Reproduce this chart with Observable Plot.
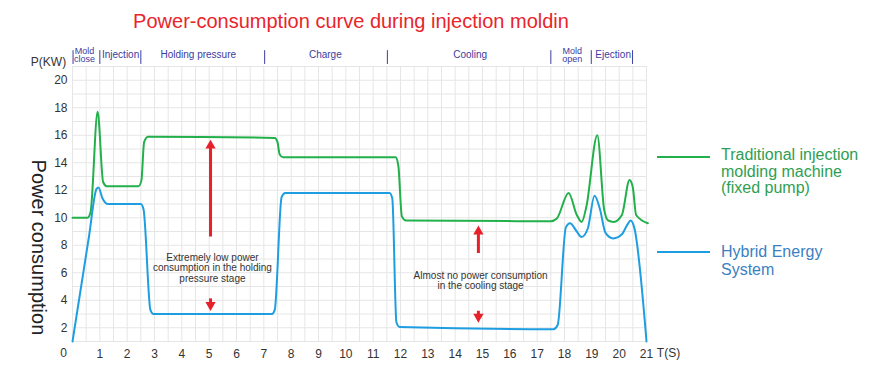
<!DOCTYPE html>
<html>
<head>
<meta charset="utf-8">
<script src="https://cdn.jsdelivr.net/npm/d3@7"></script>
<script src="https://cdn.jsdelivr.net/npm/@observablehq/plot@0.6"></script>
<style>
  html, body { margin: 0; padding: 0; background: #fff; }
  #wrap { position: relative; width: 885px; height: 386px; font-family: "Liberation Sans", Arial, sans-serif; overflow: hidden; }
  #title { position: absolute; left: 0; width: 702px; top: 10px; text-align: center; color: #e8252b; font-size: 20px; white-space: nowrap; }
  #chart { position: absolute; left: 0; top: 40px; }
  .leg { position: absolute; font-size: 16px; line-height: 16.5px; }
  .legline { position: absolute; height: 2px; width: 53px; }
</style>
</head>
<body>
<div id="wrap">
  <div id="title">Power-consumption curve during injection moldin</div>
  <div id="chart"></div>
  <div class="legline" style="left:657px; top:156px; background:#22b04b;"></div>
  <div class="leg" style="left:721px; top:147px; color:#2f9e52;">Traditional injection<br>molding machine<br>(fixed pump)</div>
  <div class="legline" style="left:657px; top:251px; background:#1e9ee0;"></div>
  <div class="leg" style="left:721px; top:243px; color:#3a7fc2; line-height:18px;">Hybrid Energy<br>System</div>
</div>
<script>
// Traditional injection molding machine (fixed pump)
const timeT  = [0, 0.55, 0.66, 0.92, 1.12, 1.25, 2.42, 2.52, 2.62, 2.76, 7.4, 7.5, 7.58, 7.7, 11.82, 11.92, 12.05, 12.2, 17.5, 17.72, 18.15, 18.45, 18.63, 18.8, 19.2, 19.45, 19.6, 19.8, 20.1, 20.38, 20.5, 20.62, 21.05];
const powerT = [10, 10, 10.4, 17.7, 12.6, 12.3, 12.3, 12.7, 15.5, 15.9, 15.8, 15.5, 14.6, 14.4, 14.4, 13.8, 10.1, 9.8, 9.75, 9.95, 11.8, 10.2, 9.7, 10.8, 16.0, 10.6, 9.8, 9.7, 10.2, 12.75, 12.2, 10.2, 9.6];

// Hybrid Energy System
const timeH  = [0, 0.3, 0.6, 0.88, 0.95, 1.1, 1.3, 2.5, 2.6, 2.85, 2.96, 7.3, 7.4, 7.65, 7.78, 11.6, 11.7, 11.85, 11.97, 17.6, 17.75, 18.05, 18.2, 18.45, 18.62, 18.85, 19.1, 19.3, 19.5, 19.78, 20.1, 20.3, 20.42, 20.55, 21];
const powerH = [1, 4.8, 8.6, 12.1, 12.2, 11.4, 11.0, 11.0, 10.6, 3.3, 3.0, 3.0, 3.3, 11.5, 11.8, 11.8, 11.4, 2.4, 2.05, 1.9, 2.2, 9.3, 9.6, 9.0, 8.6, 9.2, 11.6, 10.6, 8.9, 8.5, 8.8, 9.5, 9.8, 9.3, 1];

// Axis ticks
const xTicks = d3.range(1, 22);
const yTicks = [2, 4, 6, 8, 10, 12, 14, 16, 18, 20];

// Process phases
const phaseNames  = ["Mold\nclose", "Injection", "Holding pressure", "Charge", "Cooling", "Mold\nopen", "Ejection"];
const phaseMid    = [0.44, 1.76, 4.6, 9.25, 14.55, 18.28, 19.78];
const phaseBounds = [0.02, 1.0, 2.5, 7.03, 11.52, 17.5, 18.98, 20.49];

// Annotations
const notes  = ["Extremely low power\nconsumption in the holding\npressure stage", "Almost no power consumption\nin the cooling stage"];
const noteT  = [5.12, 14.93];
const noteP  = [6.37, 5.42];
const arrowT    = [5.05, 5.05, 14.85, 14.85];
const arrowFrom = [8.6, 4.1, 7.4, 3.2];
const arrowTo   = [15.25, 3.65, 9.0, 2.8];
const arrowUp   = [true, false, true, false];

const lineT = timeT.map((t, i) => ({t, p: powerT[i]}));
const lineH = timeH.map((t, i) => ({t, p: powerH[i]}));
const phases = phaseNames.map((name, i) => ({name, t: phaseMid[i], multi: name.includes("\n")}));
const bounds = phaseBounds.map(t => ({t}));
const noteData = notes.map((text, i) => ({text, t: noteT[i], p: noteP[i]}));
const arrows = arrowT.map((t, i) => ({t, y1: arrowFrom[i], y2: arrowTo[i], up: arrowUp[i]}));

const chart = Plot.plot({
  width: 885,
  height: 346,
  marginLeft: 72,
  marginRight: 239,
  marginTop: 26,
  marginBottom: 45,
  style: {fontFamily: "'Liberation Sans', Arial, sans-serif", background: "transparent"},
  x: {domain: [0, 21]},
  y: {domain: [1, 21]},
  marks: [
    Plot.gridX(d3.range(0, 21.01, 0.5), {stroke: "#e6e6e6", strokeOpacity: 1}),
    Plot.gridY(d3.range(1, 22), {stroke: "#e6e6e6", strokeOpacity: 1}),
    Plot.axisX(xTicks, {tickSize: 0, tickPadding: 8, fontSize: 12, color: "#333", label: null}),
    Plot.axisY(yTicks, {tickSize: 0, tickPadding: 5, fontSize: 12, color: "#333", label: null}),
    Plot.text(["0"], {x: 0, y: 1, dx: -9, dy: 12, fontSize: 12, fill: "#333"}),
    Plot.text(["T(S)"], {x: 21, y: 1, dx: 22, dy: 12, fontSize: 12, fill: "#333"}),
    Plot.text(["P(KW)"], {x: 0, y: 21, dx: -24, dy: -4, fontSize: 12, fill: "#333"}),
    Plot.text(["Power consumption"], {y: 7.84, frameAnchor: "left", textAnchor: "middle", dx: -34, rotate: 90, fontSize: 20, fill: "#222"}),
    Plot.ruleX(bounds, {x: "t", y1: 21.15, y2: 22.15, stroke: "#3c3ca0", strokeWidth: 1, clip: false}),
    Plot.text(phases.filter(d => !d.multi), {x: "t", y: 21.82, text: "name", fontSize: 10, fill: "#3c3ca0"}),
    Plot.text(phases.filter(d => d.multi), {x: "t", y: 21.82, text: "name", fontSize: 9, lineHeight: 0.95, fill: "#3c3ca0"}),
    Plot.line(lineT, {x: "t", y: "p", stroke: "#22b04b", strokeWidth: 2, curve: "monotone-x"}),
    Plot.line(lineH, {x: "t", y: "p", stroke: "#1e9ee0", strokeWidth: 2, curve: "monotone-x"}),
    Plot.ruleX(arrows, {x: "t", y1: "y1", y2: "y2", stroke: "#e8202a", strokeWidth: 3}),
    Plot.dot(arrows, {x: "t", y: "y2", symbol: "triangle", r: 3.8, fill: "#e8202a", stroke: null, rotate: d => d.up ? 0 : 180}),
    Plot.text(noteData, {x: "t", y: "p", text: "text", fontSize: 10, lineHeight: 1.05, fill: "#333"})
  ]
});
document.getElementById("chart").appendChild(chart);
</script>
</body>
</html>
